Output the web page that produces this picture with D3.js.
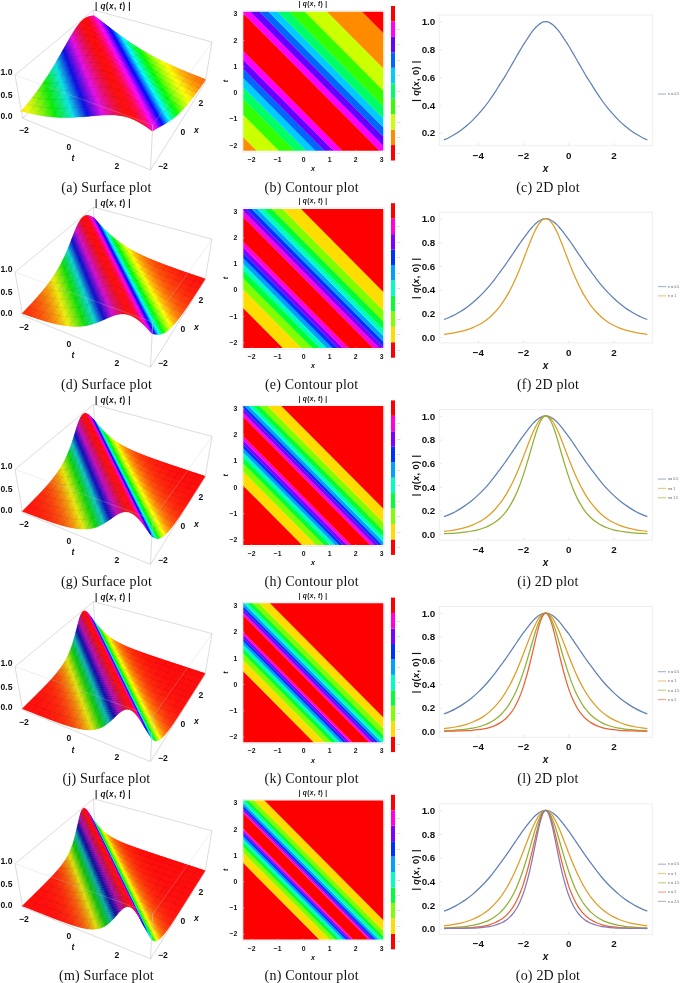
<!DOCTYPE html>
<html>
<head>
<meta charset="utf-8">
<script src="https://cdn.jsdelivr.net/npm/d3@7"></script>
<style>
    html, body { margin: 0; padding: 0; background: #fff; }
    svg { display: block; filter: blur(0.35px); }
    text { font-family: "Liberation Sans", Arial, sans-serif; fill: #111; }
    .caption { font-family: "Liberation Serif", serif; font-size: 14px; letter-spacing: 0.2px; fill: #111; }
    .axis text { font-weight: bold; }
    .axis path, .axis line { stroke: #d4d4d4; stroke-width: 0.6; }
</style>
</head>
<body>
<svg id="chart" width="685" height="983"></svg>
<script>
// Distance from the crest, shared by all the profiles below
const offsets = [0, .1, .2, .3, .4, .5, .6, .7, .8, .9, 1, 1.1, 1.2, 1.3, 1.4, 1.5, 1.6, 1.7, 1.8, 1.9, 2,
    2.25, 2.5, 2.75, 3, 3.25, 3.5, 3.75, 4, 4.25, 4.5, 5, 5.5, 6.5];

// |q|, one list per n
const profileN05 = [1, .998, .99, .98, .965, .948, .928, .905, .88, .855, .83, .803, .775, .747, .718, .69, .662, .634, .606, .58, .555,
    .49, .43, .377, .33, .287, .25, .218, .19, .167, .148, .11, .085, .05];
const profileN10 = [1, .995, .98, .957, .925, .887, .844, .797, .748, .698, .648, .599, .552, .507, .465, .425, .388, .354, .322, .293, .266,
    .209, .163, .127, .099, .077, .06, .047, .037, .029, .023, .013, .008, .003];
const profileN15 = [1, .991, .965, .925, .875, .814, .749, .682, .617, .554, .495, .44, .389, .344, .303, .267, .235, .206, .181, .159, .139,
    .1, .072, .052, .037, .027, .019, .014, .01, .007, .005, .003, .001, 0];
const profileN20 = [1, .986, .947, .889, .816, .735, .653, .574, .5, .433, .37, .317, .271, .231, .196, .167, .142, .121, .102, .087, .074,
    .049, .032, .021, .014, .009, .006, .004, .003, .002, .001, .001, 0, 0];
const profileN25 = [1, .982, .931, .857, .768, .673, .581, .495, .418, .351, .292, .244, .202, .168, .139, .115, .095, .079, .065, .054, .045,
    .028, .017, .011, .007, .004, .003, .002, .001, .001, 0, 0, 0, 0];
const profiles = [profileN05, profileN10, profileN15, profileN20, profileN25];

// Distance from the crest of contour levels 0.1 ... 0.9
const levelsN05 = [5.35, 4.0, 3.15, 2.55, 2.1, 1.75, 1.4, 1.05, .72];
const levelsN10 = [3.0, 2.29, 1.87, 1.57, 1.32, 1.1, .9, .69, .47];
const levelsN15 = [2.25, 1.72, 1.41, 1.18, .99, .83, .68, .52, .37];
const levelsN20 = [1.81, 1.39, 1.13, .95, .8, .67, .55, .42, .32];
const levelsN25 = [1.6, 1.2, .98, .83, .69, .58, .47, .38, .3];
const levels = [levelsN05, levelsN10, levelsN15, levelsN20, levelsN25];

// Band colours, low to high
const bandsWide = ['#ff0000', '#ff8c00', '#ccff00', '#33ff00', '#00ff66', '#00ccff', '#0066ff', '#6600ff', '#ff00ff', '#ff0000'];
const bandsNarrow = ['#ff0000', '#ffdd00', '#80ff00', '#00ff33', '#00ffbf', '#00a0ff', '#0030ff', '#8000ff', '#ff00e0', '#ff0000'];
const levelLabels = ['0.1', '0.2', '0.3', '0.4', '0.5', '0.6', '0.7', '0.8', '0.9'];

const lineColors = ['#5e81b5', '#e19c24', '#8fb032', '#eb6235', '#8778b3'];
const legendLabels = [
    ['n = 0.5'],
    ['n = 0.5', 'n = 1'],
    ['n= 0.5', 'n= 1', 'n= 1.5'],
    ['n = 0.5', 'n = 1', 'n = 1.5', 'n = 2'],
    ['n = 0.5', 'n = 1', 'n = 1.5', 'n = 2', 'n = 2.5'],
];
const captionLetters = 'abcdefghijklmno'.split('');

const contourTicks = [-2, -1, 0, 1, 2, 3];
const surfaceTicksX = [-2, 0, 2];
const surfaceTicksZ = [0, 0.5, 1];
const lineTicksX = [-4, -2, 0, 2];
const lineTicksYFirst = [0.2, 0.4, 0.6, 0.8, 1];
const lineTicksY = [0, 0.2, 0.4, 0.6, 0.8, 1];

const app = {
    svg: d3.select('#chart'),
    rowStep: 197.2,
    domainX: [-2.3, 3.08],
    domainT: [-2.22, 3.08],

    init: function() {
        profiles.forEach((profile, i) => {
            const row = app.svg.append('g').attr('transform', `translate(0, ${i * app.rowStep})`);
            const crest = d3.scaleLinear().domain(offsets).range(profile).clamp(true);
            app.drawSurface(row, crest);
            app.drawContour(row, i);
            app.drawLines(row, i);
            app.drawCaptions(row, i);
        });
    },

    // Bold label with italic variables, e.g. |q(x, t)|
    styledLabel: function(sel, arg, size) {
        sel.attr('font-size', size).attr('font-weight', 'bold').attr('text-anchor', 'middle')
            .style('letter-spacing', `${size * 0.05}px`);
        sel.append('tspan').text('| ');
        sel.append('tspan').attr('font-style', 'italic').text('q');
        sel.append('tspan').text('(');
        sel.append('tspan').attr('font-style', 'italic').text('x');
        sel.append('tspan').text(', ');
        sel.append('tspan').attr('font-style', arg === 't' ? 'italic' : 'normal').text(arg);
        sel.append('tspan').text(') |');
    },

    // Maps the unit square onto a four sided figure
    homography: function(p) {
        const [[x0, y0], [x1, y1], [x2, y2], [x3, y3]] = p;
        const dx1 = x1 - x2, dx2 = x3 - x2, dx3 = x0 - x1 + x2 - x3;
        const dy1 = y1 - y2, dy2 = y3 - y2, dy3 = y0 - y1 + y2 - y3;
        const den = dx1 * dy2 - dx2 * dy1;
        const g = (dx3 * dy2 - dx2 * dy3) / den;
        const h = (dx1 * dy3 - dx3 * dy1) / den;
        const a = x1 - x0 + g * x1, b = x3 - x0 + h * x3;
        const d = y1 - y0 + g * y1, e = y3 - y0 + h * y3;
        return (u, v) => {
            const w = g * u + h * v + 1;
            return [(a * u + b * v + x0) / w, (d * u + e * v + y0) / w];
        };
    },

    drawSurface: function(row, crest) {
        const L0 = [22.7, 118.3], B0 = [95.5, 47], R0 = [205, 83], F0 = [150.5, 170];
        const L1 = [15, 75], B1 = [93.5, 10], R1 = [212, 42], F1 = [152.7, 125];
        const floor = app.homography([L0, B0, R0, F0]);
        const ceil = app.homography([L1, B1, R1, F1]);
        const u = d3.scaleLinear().domain(app.domainX).range([0, 1]);
        const v = d3.scaleLinear().domain(app.domainT).range([0, 1]);
        const h = d3.scaleLinear().domain([-0.03, 1.03]).range([0, 1]);
        const project = (x, t, z) => {
            const a = floor(u(x), v(t)), b = ceil(u(x), v(t)), f = h(z);
            return [a[0] + (b[0] - a[0]) * f, a[1] + (b[1] - a[1]) * f];
        };
        const height = s => crest(Math.abs(s));
        const g = row.append('g');
        const edge = (p, q, opacity) => g.append('line')
            .attr('x1', p[0]).attr('y1', p[1]).attr('x2', q[0]).attr('y2', q[1])
            .attr('stroke', '#c4c4c4').attr('stroke-width', 0.6).attr('stroke-opacity', opacity);

        // Back of the box
        [[L1, B1], [B1, R1], [L0, B0], [B0, R0], [B0, B1]].forEach(e => edge(e[0], e[1], 1));

        // Strips of equal x + t, painted far to near
        const [xMin, xMax] = app.domainX, [tMin, tMax] = app.domainT;
        const ends = s => [Math.max(xMin, s - tMax), Math.min(xMax, s - tMin)];
        const step = 0.03;
        const stops = d3.range(xMax + tMax, xMin + tMin - step, -step);
        stops.forEach(s => {
            const lo = Math.max(s - step, xMin + tMin);
            const [ax, bx] = ends(s), [cx, dx] = ends(lo);
            const z = height(s - step / 2);
            const slope = (height(s + 0.05) - height(s - 0.05)) / 0.1;
            const base = d3.hsl(z * 360, 1, 0.5).formatHex();
            const shade = slope > 0 ? Math.min(0.5, slope * 0.42) : 0;
            const fill = d3.interpolateRgb(base, '#000')(shade);
            const pts = [project(ax, s - ax, height(s)), project(bx, s - bx, height(s)),
                project(dx, lo - dx, height(lo)), project(cx, lo - cx, height(lo))];
            g.append('polygon').attr('points', pts.join(' '))
                .attr('fill', fill).attr('stroke', fill).attr('stroke-width', 0.4);
        });

        // Mesh
        const mesh = d3.line();
        const meshX = d3.range(1, 15).map(i => xMin + (xMax - xMin) * i / 15);
        const meshT = d3.range(1, 15).map(i => tMin + (tMax - tMin) * i / 15);
        const tSamples = d3.range(tMin, tMax + 0.05, 0.05);
        const xSamples = d3.range(xMin, xMax + 0.05, 0.05);
        meshX.forEach(x => g.append('path').attr('fill', 'none').attr('stroke', '#000')
            .attr('stroke-opacity', 0.2).attr('stroke-width', 0.35)
            .attr('d', mesh(tSamples.map(t => project(x, t, height(x + t))))));
        meshT.forEach(t => g.append('path').attr('fill', 'none').attr('stroke', '#000')
            .attr('stroke-opacity', 0.2).attr('stroke-width', 0.35)
            .attr('d', mesh(xSamples.map(x => project(x, t, height(x + t))))));

        // Front of the box
        [[L1, F1], [F1, R1]].forEach(e => edge(e[0], e[1], 0.45));
        [[L0, F0], [F0, R0], [L0, L1], [F0, F1], [R0, R1]].forEach(e => edge(e[0], e[1], 1));

        // Labels
        const num = d3.format('d');
        const label = (x, y, txt, anchor, style) => g.append('text')
            .attr('x', x).attr('y', y).attr('dy', '0.35em')
            .attr('text-anchor', anchor || 'middle').attr('font-size', 8.6)
            .attr('font-weight', 'bold').attr('font-style', style || 'normal').text(txt);
        const tSpots = [[24, 130], [69, 146.7], [117, 165.7]];
        const xSpots = [[163, 166], [183, 132], [201, 103]];
        surfaceTicksX.forEach((d, i) => {
            label(tSpots[i][0], tSpots[i][1], num(d));
            label(xSpots[i][0], xSpots[i][1], num(d));
        });
        const zSpots = [115.7, 95, 71.7];
        surfaceTicksZ.forEach((d, i) => label(12.5, zSpots[i], d3.format('.1f')(d), 'end'));
        label(73, 158, 't', 'middle', 'italic');
        label(196.5, 129.5, 'x', 'middle', 'italic');
        app.styledLabel(g.append('text').attr('x', 113).attr('y', 8.5), 't', 8.2);
    },

    drawContour: function(row, i) {
        const colors = i === 0 ? bandsWide : bandsNarrow;
        const rowLevels = levels[i];
        const x = d3.scaleLinear().domain(app.domainX).range([243.3, 383.3]);
        const t = d3.scaleLinear().domain(app.domainT).range([150.7, 11.7]);
        const g = row.append('g');
        const clipId = `plotClip${i}`;
        g.append('clipPath').attr('id', clipId).append('rect')
            .attr('x', x.range()[0]).attr('y', t.range()[1])
            .attr('width', x.range()[1] - x.range()[0]).attr('height', t.range()[0] - t.range()[1]);

        // Band edges along x + t, low side then high side of the crest
        const far = 8;
        const edges = [-far, ...rowLevels.map(d => -d), ...rowLevels.slice().reverse(), far];
        const fills = [...colors.slice(0, 9), colors[9], ...colors.slice(0, 9).reverse()];
        const plot = g.append('g').attr('clip-path', `url(#${clipId})`);
        plot.selectAll('polygon').data(d3.pairs(edges)).enter().append('polygon')
            .attr('fill', (d, j) => fills[j])
            .attr('stroke', (d, j) => fills[j]).attr('stroke-width', 0.2)
            .attr('points', d => {
                const [a, b] = d, l = -4, r = 5;
                return [[l, a - l], [r, a - r], [r, b - r], [l, b - l]]
                    .map(p => [x(p[0]), t(p[1])]).join(' ');
            });

        // Frame
        const left = 242.3, right = 384.3, top = 10.7, bottom = 152;
        const bottomAxis = d3.axisBottom(x).tickValues(contourTicks).tickFormat(d3.format('d')).tickSize(-2).tickPadding(5);
        const leftAxis = d3.axisLeft(t).tickValues(contourTicks).tickFormat(d3.format('d')).tickSize(-2).tickPadding(5);
        const axB = g.append('g').attr('class', 'axis').attr('transform', `translate(0, ${bottom})`).call(bottomAxis);
        const axL = g.append('g').attr('class', 'axis').attr('transform', `translate(${left}, 0)`).call(leftAxis);
        [axB, axL].forEach(a => { a.select('.domain').remove(); a.selectAll('text').attr('font-size', 6.8).attr('fill', '#111'); });
        g.append('rect').attr('x', left).attr('y', top).attr('width', right - left).attr('height', bottom - top)
            .attr('fill', 'none').attr('stroke', '#e8e8e8').attr('stroke-width', 0.7);

        g.append('text').attr('x', 313).attr('y', 171).attr('text-anchor', 'middle')
            .attr('font-size', 7).attr('font-weight', 'bold').attr('font-style', 'italic').text('x');
        g.append('text').attr('transform', 'translate(228, 81) rotate(-90)').attr('text-anchor', 'middle')
            .attr('font-size', 7).attr('font-weight', 'bold').attr('font-style', 'italic').text('t');
        app.styledLabel(g.append('text').attr('x', 313).attr('y', 6.3), 't', 6.6);

        // Colour legend
        const legend = d3.scaleBand().domain(d3.range(10)).range([160.5, 6]);
        g.selectAll('.swatch').data(colors).enter().append('rect').attr('class', 'swatch')
            .attr('x', 391).attr('width', 4)
            .attr('y', (d, j) => legend(j)).attr('height', legend.bandwidth())
            .attr('fill', d => d);
        g.selectAll('.levelLabel').data(levelLabels).enter().append('text').attr('class', 'levelLabel')
            .attr('x', 397).attr('y', (d, j) => legend(j) + legend.bandwidth() / 2 + 0.8)
            .attr('font-size', 2.4).style('fill', '#999').text(d => d);
    },

    drawLines: function(row, i) {
        const first = i === 0;
        const x = d3.scaleLinear().domain([-5.71, 3.72]).range([439.3, 652.3]);
        const y = d3.scaleLinear().domain(first ? [0.106, 1.048] : [-0.05, 1.055]).range([145.7, 15]);
        const g = row.append('g');

        const xAxis = d3.axisBottom(x).tickValues(lineTicksX).tickFormat(d3.format('d')).tickSize(-2.5).tickPadding(6);
        const yAxis = d3.axisLeft(y).tickValues(first ? lineTicksYFirst : lineTicksY).tickFormat(d3.format('.1f')).tickSize(-2.5).tickPadding(4);
        const axB = g.append('g').attr('class', 'axis').attr('transform', 'translate(0, 145.7)').call(xAxis);
        const axL = g.append('g').attr('class', 'axis').attr('transform', 'translate(439.3, 0)').call(yAxis);
        [axB, axL].forEach(a => { a.select('.domain').remove(); a.selectAll('text').attr('font-size', 9.8).attr('fill', '#111'); });
        g.append('rect').attr('x', 439.3).attr('y', 15).attr('width', 213).attr('height', 130.7)
            .attr('fill', 'none').attr('stroke', '#ececec').attr('stroke-width', 0.9);

        // One curve per n, mirrored about the crest at x = -1
        const line = d3.line().x(d => x(d[0])).y(d => y(d[1])).curve(d3.curveCatmullRom.alpha(0.5));
        const kept = offsets.map((d, j) => j).filter(j => offsets[j] <= 4.5);
        profiles.slice(0, i + 1).forEach((profile, c) => {
            const points = [
                ...kept.slice().reverse().map(j => [-1 - offsets[j], profile[j]]),
                ...kept.slice(1).map(j => [-1 + offsets[j], profile[j]]),
            ];
            g.append('path').attr('d', line(points)).attr('fill', 'none')
                .attr('stroke', lineColors[c]).attr('stroke-width', 1.25);
        });

        g.append('text').attr('x', 545.5).attr('y', 171.5).attr('text-anchor', 'middle')
            .attr('font-size', 10).attr('font-weight', 'bold').attr('font-style', 'italic').text('x');
        app.styledLabel(g.append('text').attr('transform', 'translate(419, 81) rotate(-90)'), '0', 9);

        // Line legend
        const labels = legendLabels[i];
        const gap = 9.3, start = 94 - (labels.length - 1) * gap / 2;
        labels.forEach((txt, c) => {
            const ly = start + c * gap;
            g.append('line').attr('x1', 658).attr('x2', 666).attr('y1', ly).attr('y2', ly)
                .attr('stroke', lineColors[c]).attr('stroke-opacity', 0.55).attr('stroke-width', 1.2);
            g.append('text').attr('x', 668).attr('y', ly + 1.3).attr('font-size', 3.7).style('fill', '#666').text(txt);
        });
    },

    drawCaptions: function(row, i) {
        const names = ['Surface plot', 'Contour plot', '2D plot'];
        const centers = [106.5, 311.7, 548];
        names.forEach((name, j) => row.append('text').attr('class', 'caption')
            .attr('x', centers[j]).attr('y', 191.5).attr('text-anchor', 'middle')
            .text(`(${captionLetters[i * 3 + j]}) ${name}`));
    },
};

app.init();
</script>
</body>
</html>
